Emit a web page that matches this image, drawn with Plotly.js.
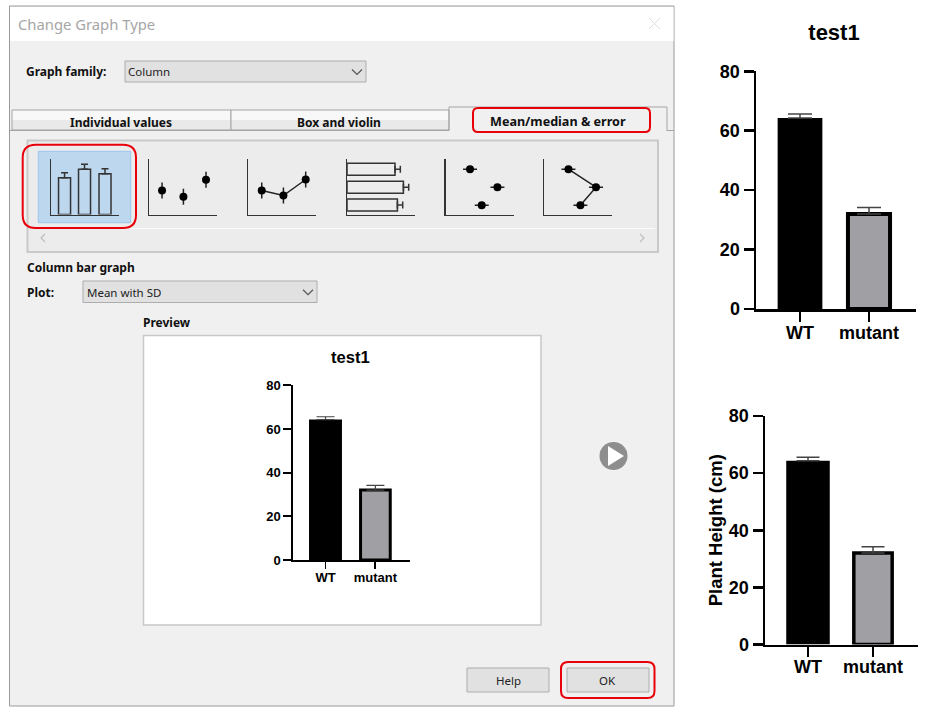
<!DOCTYPE html>
<html><head><meta charset="utf-8">
<script src="https://cdn.plot.ly/plotly-3.0.1.min.js"></script>
<style>html,body{margin:0;padding:0;background:#fff}#c{width:928px;height:714px}</style>
</head><body><div id="c"></div>
<script>
// ---- data ----
const groups = ['WT', 'mutant'];
const groupMeans = [64.3, 32];
const groupErrors = [1.3, 2.2];
const yTicks = [0, 20, 40, 60, 80];

const iconBarX = [13.5, 33.5, 54];
const iconBarH = [36.7, 45.3, 40.7];
const iconBarErr = [5, 5, 5];
const iconDotX = [12.6, 34, 56.6];
const iconDotY = [24, 17.7, 34.7];
const iconDotErr = [8, 8, 8];
const iconLineX = [13.3, 35, 57.3];
const iconLineY = [24, 19, 35];
const iconHBarY = [45.3, 27.3, 9.5];
const iconHBarW = [48, 56.4, 50.4];
const iconHBarErr = [5.3, 5.3, 5.3];
const iconHDotX = [24.3, 51.7, 36];
const iconHLineX = [24, 51.6, 36];
const iconHDotY = [45.3, 27.3, 9.3];
const iconHDotErr = [7, 7, 7];

// ---- helpers ----
const W = 928, H = 714, GREY = '#a09fa4', BAR = 'Liberation Sans', UI = 'Noto Sans';
const px = v => v / W, py = v => 1 - v / H;
const traces = [], shapes = [], annotations = [], layoutAxes = {};
let axisN = 0;

function newAxes(x0, x1, y0, y1, xa, ya) {
  axisN++;
  const s = axisN === 1 ? '' : String(axisN);
  layoutAxes['xaxis' + s] = Object.assign({domain: [px(x0), px(x1)], anchor: 'y' + s, showgrid: false, zeroline: false, fixedrange: true}, xa);
  layoutAxes['yaxis' + s] = Object.assign({domain: [py(y1), py(y0)], anchor: 'x' + s, showgrid: false, zeroline: false, fixedrange: true}, ya);
  return {xaxis: 'x' + s, yaxis: 'y' + s};
}

function columnChart(o) {
  const step = o.c2 - o.c1;
  const tf = {family: BAR, size: o.font, color: '#000', weight: 700};
  const line = {showline: true, linecolor: '#000', linewidth: o.lw, ticks: 'outside', tickcolor: '#000', tickwidth: o.lw, ticklen: o.tick, tickfont: tf};
  const a = newAxes(o.x0, o.x1, o.y80, o.y0,
    Object.assign({type: 'category', categoryarray: groups, range: [(o.x0 - o.c1) / step, (o.x1 - o.c1) / step], ticklabelstandoff: o.xoff}, line),
    Object.assign({range: [0, 80], tickvals: yTicks, ticktext: yTicks.map(String), tickmode: 'array'}, line, o.ytitle ? {title: {text: o.ytitle, font: {family: BAR, size: o.tfont, color: '#000', weight: 700}, standoff: o.standoff}} : {}));
  traces.push(Object.assign({
    type: 'bar', x: groups, y: groupMeans, width: o.w,
    marker: {color: ['#000', GREY], line: {color: '#000', width: [0, o.bw]}},
    error_y: {type: 'data', array: groupErrors, arrayminus: [0, 0], symmetric: false, color: '#444', thickness: o.et, width: o.cap}
  }, a));
}

function rect(x0, y0, x1, y1, fill, line, lw, layer) {
  shapes.push({type: 'rect', xref: 'paper', yref: 'paper', x0: px(x0), x1: px(x1), y0: py(y1), y1: py(y0), fillcolor: fill || 'rgba(0,0,0,0)', line: {color: line || 'rgba(0,0,0,0)', width: lw === undefined ? 1 : lw}, layer: layer || 'below'});
}
function path(d, fill, line, lw, layer) {
  const s = d.map(p => p[0] + (p.length > 1 ? p.slice(1).map((v, i) => i % 2 ? py(v) : px(v)).join(' ') : '')).join(' ');
  shapes.push({type: 'path', xref: 'paper', yref: 'paper', path: s, fillcolor: fill || 'rgba(0,0,0,0)', line: {color: line || 'rgba(0,0,0,0)', width: lw === undefined ? 1 : lw}, layer: layer || 'below'});
}
function redBox(x0, y0, x1, y1, r) {
  path([['M', x0 + r, y0], ['L', x1 - r, y0], ['Q', x1, y0, x1, y0 + r], ['L', x1, y1 - r], ['Q', x1, y1, x1 - r, y1], ['L', x0 + r, y1], ['Q', x0, y1, x0, y1 - r], ['L', x0, y0 + r], ['Q', x0, y0, x0 + r, y0], ['Z']], null, '#e8000b', 2, 'above');
}
function chevron(pts, c) { path(pts.map((p, i) => [i ? 'L' : 'M', p[0], p[1]]), null, c, 1.2); }
function label(text, x, y, size, opt) {
  opt = opt || {};
  annotations.push({text: opt.bold ? '<b>' + text + '</b>' : text, x: px(x), y: py(y), xref: 'paper', yref: 'paper', showarrow: false, xanchor: opt.anchor || 'left', yanchor: 'middle', font: {family: opt.family || UI, size: size, color: opt.color || '#111'}});
}
function combo(x0, y0, x1, y1) {
  rect(x0, y0, x1, y1, '#e1e1e1', '#adadad', 1);
  const cx = x1 - 9, cy = (y0 + y1) / 2;
  chevron([[cx - 5, cy - 2], [cx, cy + 3], [cx + 5, cy - 2]], '#555');
}
function hline(x0, x1, y, c, w) {
  shapes.push({type: 'line', xref: 'paper', yref: 'paper', x0: px(x0), x1: px(x1), y0: py(y), y1: py(y), line: {color: c, width: w}, layer: 'below'});
}

// ---- dialog chrome ----
rect(9.5, 6, 674, 706, '#f0f0f0', '#9a9a9a', 1);
rect(10, 7, 673.5, 41, '#ffffff', null, 0);
label('Change Graph Type', 16, 24, 14.8, {color: '#a6a6a6'});
shapes.push({type: 'line', xref: 'paper', yref: 'paper', x0: px(649), x1: px(660), y0: py(18), y1: py(29), line: {color: '#dedede', width: 1}, layer: 'below'});
shapes.push({type: 'line', xref: 'paper', yref: 'paper', x0: px(649), x1: px(660), y0: py(29), y1: py(18), line: {color: '#dedede', width: 1}, layer: 'below'});

label('Graph family:', 24, 71.5, 12, {bold: true});
combo(125, 61, 366, 82);
label('Column', 126, 71.5, 11.5, {color: '#222'});

// tabs
[[12, 231], [231, 449]].forEach(t => {
  rect(t[0], 110, t[1], 120, '#f8f8f8', null, 0);
  rect(t[0], 120, t[1], 130, '#e9e9e9', null, 0);
  rect(t[0], 110, t[1], 130, null, '#a5a5a5', 1);
});
hline(10, 449, 130.5, '#a5a5a5', 1);
hline(667, 674, 130.5, '#a5a5a5', 1);
path([['M', 449, 131], ['L', 449, 107], ['L', 667, 107], ['L', 667, 131]], null, '#a5a5a5', 1);
label('Individual values', 121, 122, 12, {bold: true, anchor: 'center'});
label('Box and violin', 339, 122, 12, {bold: true, anchor: 'center'});
label('Mean/median &amp; error', 557.5, 121, 12.6, {bold: true, anchor: 'center'});
redBox(473, 108, 650, 132, 5);

// gallery
rect(27.5, 140.5, 658, 252, '#ececec', '#c9c9c9', 2);
hline(37, 655, 228.5, '#fbfbfb', 1);
chevron([[45, 234], [41, 238], [45, 242]], '#bdbdbd');
chevron([[640, 234], [644, 238], [640, 242]], '#bdbdbd');
rect(38.3, 151.3, 130.7, 222.7, '#bcd7ee', '#9ac6ee', 1);
redBox(22.7, 144.7, 136, 228, 13);

label('Column bar graph', 25, 267, 12, {bold: true});
label('Plot:', 25, 292, 12, {bold: true});
combo(83, 281, 317, 302.5);
label('Mean with SD', 85, 292, 11.5, {color: '#222'});

// preview
label('Preview', 141, 322.5, 12, {bold: true});
rect(143.5, 335.5, 541, 625, '#ffffff', '#c8c8c8', 1.5);
label('test1', 350, 357, 16.6, {bold: true, family: BAR, anchor: 'center', color: '#000'});

// play button
shapes.push({type: 'circle', xref: 'paper', yref: 'paper', x0: px(599.5), x1: px(627.5), y0: py(470), y1: py(442), fillcolor: '#8e8e8e', line: {width: 0}, layer: 'below'});
path([['M', 608, 446], ['L', 608, 466], ['L', 624, 456], ['Z']], '#ffffff', null, 0);

// buttons
rect(467, 668, 549, 692, '#e1e1e1', '#adadad', 1);
rect(567, 668, 649, 692, '#e1e1e1', '#adadad', 1);
label('Help', 508, 680.5, 11.5, {anchor: 'center', color: '#222'});
label('OK', 607.5, 680.5, 11.5, {anchor: 'center', color: '#222'});
redBox(561, 662, 654.5, 698, 7);

// ---- real charts ----
columnChart({x0: 292.7, x1: 410, y80: 385.3, y0: 560, c1: 325.5, c2: 375.4, w: [0.66, 0.595], font: 13, lw: 1.8, tick: 7.5, bw: 3, et: 1.2, cap: 9, xoff: -3});
columnChart({x0: 756, x1: 916, y80: 71.3, y0: 309, c1: 800, c2: 869, w: [0.648, 0.61], font: 18, lw: 2.5, tick: 10, bw: 4, et: 1.5, cap: 12, xoff: -4});
columnChart({x0: 765, x1: 918, y80: 416, y0: 644.5, c1: 808, c2: 873, w: [0.67, 0.59], font: 18, lw: 2.5, tick: 10, bw: 3.5, et: 1.5, cap: 11.5, xoff: -6,
  ytitle: 'Plant Height (cm)', tfont: 18.5, standoff: 2});

// ---- gallery icons ----
const iconLine = {showline: true, linecolor: '#333', linewidth: 1.5, showticklabels: false, ticks: ''};
function icon(x0) {
  return newAxes(x0 + 0.75, x0 + 68.7, 159, 214.5,
    Object.assign({range: [0, 68]}, iconLine),
    Object.assign({range: [0, 55.5]}, iconLine));
}
const errStyle = {color: '#222', thickness: 1.5, width: 0};
traces.push(Object.assign({type: 'bar', x: iconBarX, y: iconBarH, width: 12, marker: {color: 'rgba(0,0,0,0)', line: {color: '#333', width: 1.5}},
  error_y: {type: 'data', array: iconBarErr, arrayminus: [0, 0, 0], symmetric: false, color: '#333', thickness: 1.5, width: 3.5}}, icon(50.3)));
traces.push(Object.assign({type: 'scatter', mode: 'markers', x: iconDotX, y: iconDotY, marker: {color: '#000', size: 8},
  error_y: Object.assign({type: 'data', array: iconDotErr}, errStyle)}, icon(148.7)));
traces.push(Object.assign({type: 'scatter', mode: 'lines+markers', x: iconLineX, y: iconLineY, line: {color: '#222', width: 1.5}, marker: {color: '#000', size: 8},
  error_y: Object.assign({type: 'data', array: iconDotErr}, errStyle)}, icon(247.7)));
traces.push(Object.assign({type: 'bar', orientation: 'h', x: iconHBarW, y: iconHBarY, width: 12, marker: {color: 'rgba(0,0,0,0)', line: {color: '#333', width: 1.5}},
  error_x: {type: 'data', array: iconHBarErr, arrayminus: [0, 0, 0], symmetric: false, color: '#333', thickness: 1.5, width: 3.5}}, icon(346.3)));
traces.push(Object.assign({type: 'scatter', mode: 'markers', x: iconHDotX, y: iconHDotY, marker: {color: '#000', size: 8},
  error_x: Object.assign({type: 'data', array: iconHDotErr}, errStyle)}, icon(445)));
traces.push(Object.assign({type: 'scatter', mode: 'lines+markers', x: iconHLineX, y: iconHDotY, line: {color: '#222', width: 1.5}, marker: {color: '#000', size: 8},
  error_x: Object.assign({type: 'data', array: iconHDotErr}, errStyle)}, icon(543.7)));

const layout = Object.assign({
  width: W, height: H, autosize: false,
  margin: {l: 0, r: 0, t: 0, b: 0, pad: 0},
  paper_bgcolor: '#ffffff', plot_bgcolor: 'rgba(0,0,0,0)',
  showlegend: false, hovermode: false, barmode: 'overlay',
  title: {text: '<b>test1</b>', x: px(834), y: py(32), xanchor: 'center', yanchor: 'middle', xref: 'paper', yref: 'paper', font: {family: BAR, size: 22, color: '#000'}},
  shapes: shapes, annotations: annotations
}, layoutAxes);

Plotly.newPlot('c', traces, layout, {displayModeBar: false, staticPlot: true});
</script></body></html>
